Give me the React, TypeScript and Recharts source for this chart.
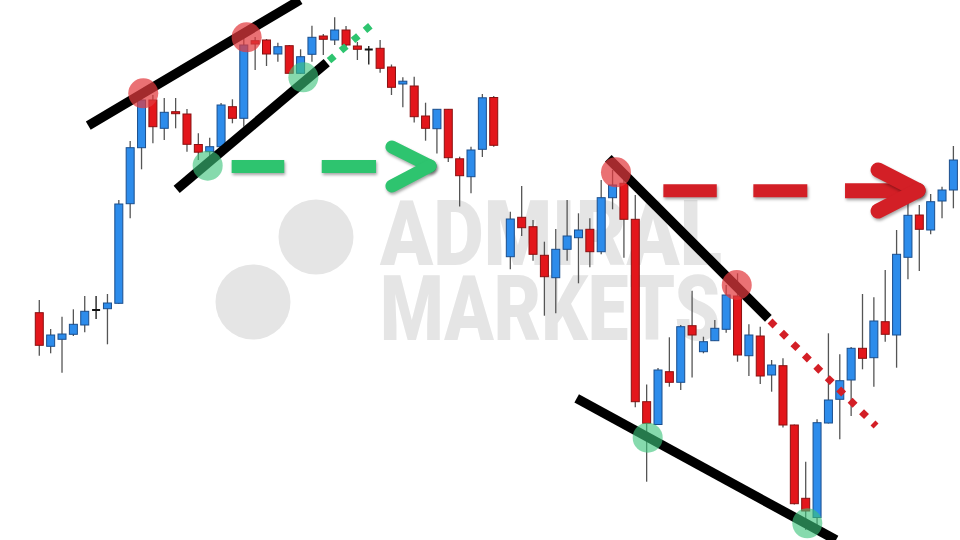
import { ComposedChart, Bar, XAxis, YAxis, ReferenceLine, ReferenceDot } from "recharts";

// ─── Data ─────────────────────────────────────────────────────────────────────
// candles as [open, high, low, close]; blue = up, red = down

const leftCandles: number[][] = [
  [227.3, 240, 184.3, 194.7],
  [193.7, 211, 186.7, 205],
  [200.7, 223.3, 167.3, 206],
  [205.7, 230.7, 204, 215.7],
  [215, 244, 207.7, 228.7],
  [230, 244, 221, 230],
  [231.3, 246, 195.7, 237],
  [236.7, 340, 236, 336],
  [336.3, 399, 321.7, 392.3],
  [392.3, 444, 370.7, 440],
  [440, 445, 396.7, 413.3],
  [411.7, 442, 400, 427.7],
  [428.3, 442, 411.7, 426.5],
  [426, 431, 388.3, 395.7],
  [395.5, 406.7, 380, 387.8],
  [388.3, 402.3, 380, 393.3],
  [393.3, 437, 393, 435],
  [433.3, 440.7, 416.7, 421.7],
  [421.7, 504, 413.3, 495],
  [499.3, 503, 470, 496],
  [500, 501, 474, 486],
  [486, 497.3, 478.3, 493.3],
  [494.3, 495, 466, 466.7],
  [466.7, 490.7, 466, 483.3],
  [485.7, 514.3, 478.3, 502.7],
  [504, 506, 485, 500.7],
  [500, 522.7, 495, 510],
  [510, 514, 490, 495],
  [494, 498, 480, 490.7],
  [490.5, 494, 475.5, 490.5],
  [491.7, 500, 467.3, 471.7],
  [473, 475.5, 445, 452.7],
  [456, 462.7, 432.7, 458.8],
  [454, 463.3, 417.5, 423.3],
  [424, 437.3, 399.3, 411.7],
  [411.3, 430.7, 386.5, 430.7],
  [430.7, 431, 378, 382.3],
  [381.2, 383.3, 333.5, 364.3],
  [363.3, 393.3, 346.7, 390],
  [390.7, 446, 383, 442.2],
  [442.5, 444, 393.3, 394.7],
];

const rightCandles: number[][] = [
  [283.3, 328.3, 270.7, 321],
  [322.7, 354, 304, 312.3],
  [313.3, 320, 279.3, 285.7],
  [284.7, 298.3, 224.3, 263.3],
  [262.3, 311, 226.7, 290.7],
  [290.7, 340, 279.3, 304],
  [302.3, 326.7, 256.7, 310],
  [310.7, 321.7, 272.7, 288.3],
  [288.3, 360, 285.7, 342.3],
  [342.3, 370, 330.7, 355],
  [356.7, 365, 282.3, 320.7],
  [320.7, 345, 132.7, 138.3],
  [138.3, 155.5, 58.3, 116.7],
  [115.5, 172, 115, 170],
  [168.3, 202.7, 153.3, 157.7],
  [157.7, 215, 150, 213.3],
  [214.3, 249.3, 162.5, 205],
  [188.3, 203.3, 186.7, 198.3],
  [199.3, 220, 199, 211.7],
  [210.7, 255, 207.3, 245],
  [244, 266.7, 178.3, 185],
  [184.3, 215.7, 164, 205],
  [204, 213.3, 156, 164],
  [165, 180, 148.3, 175],
  [174.3, 181.7, 112.5, 115],
  [115, 115.5, 35.5, 36.3],
  [41.7, 78.3, 10, 29],
  [22.5, 120.7, 10, 117.3],
  [117, 206.7, 116.5, 140],
  [140.7, 185.7, 100.7, 159.3],
  [160, 193, 124, 191.7],
  [191.7, 246, 170.7, 181.7],
  [182.3, 242.7, 153.3, 219],
  [218.3, 270, 198.3, 205.7],
  [205, 310, 172.3, 285.7],
  [282.7, 340, 260.7, 324.7],
  [325, 335, 269, 310.7],
  [310, 346, 305.7, 338.3],
  [339, 353.3, 321.7, 350],
  [350, 394, 331.7, 380],
];

// right-hand chart starts a little after the left one ends
const RIGHT_START = 41.46;

// trend lines, [t, price] end points
const blackLines = [
  [[4.34, 414.3], [22.98, 540]],
  [[12.12, 350.7], [25.33, 477.3]],
  [[50.11, 381.7], [64.2, 221.7]],
  [[47.33, 141.7], [70.16, 0]],
];
const greenDotted = [[25.53, 479.3], [29.75, 519.8]];
const redDotted = [[64.35, 219], [73.68, 114]];

const redMarks = [[9.18, 446.7], [18.28, 502.7], [50.79, 367.7], [61.42, 255]];
const greenMarks = [[14.85, 374.3], [23.27, 462.7], [53.58, 102.3], [67.63, 16.7]];

// dashed arrows
const greenArrowLevel = 373.5;
const greenDashes = [[16.96, 21.59], [24.89, 29.67]];
const greenHead = [[31.07, 393], [34.42, 374], [31.07, 354]];
const redArrowLevel = 349.2;
const redDashes = [[54.96, 59.66], [62.88, 67.63]];
const redShaft = [70.95, 76.6];
const redHead = [[73.86, 370], [77.38, 349.5], [73.86, 329]];

const data = [
  ...leftCandles.map((c, i) => ({ t: i, open: c[0], high: c[1], low: c[2], close: c[3] })),
  ...rightCandles.map((c, i) => ({ t: RIGHT_START + i, open: c[0], high: c[1], low: c[2], close: c[3] })),
].map((d) => ({ ...d, range: [d.low, d.high] }));

const BLUE = "#2d8ceb";
const RED = "#e3161b";
const GREEN = "#2ec46f";
const ARROW_RED = "#d31f26";

// ─── Candle shape ─────────────────────────────────────────────────────────────

function Candle(props: any) {
  const { x, y, width, height, payload } = props;
  const { open, high, low, close } = payload;
  const top = Math.min(y, y + height);
  const h = Math.abs(height);
  const k = high === low ? 0 : h / (high - low);
  const py = (v: number) => top + (high - v) * k;
  const cx = x + width / 2;
  const doji = open === close;
  const up = close > open;
  const bTop = py(Math.max(open, close));
  const bBot = py(Math.min(open, close));
  if (doji) {
    return (
      <g>
        <line x1={cx} x2={cx} y1={top} y2={top + h} stroke="#222" strokeWidth={1.4} />
        <line x1={x} x2={x + width} y1={bTop} y2={bTop} stroke="#111" strokeWidth={2} />
      </g>
    );
  }
  return (
    <g>
      <line x1={cx} x2={cx} y1={top} y2={top + h} stroke="#555" strokeWidth={1.3} />
      <rect
        x={x}
        y={bTop}
        width={width}
        height={Math.max(bBot - bTop, 2)}
        fill={up ? BLUE : RED}
        stroke={up ? "#1b4e8c" : "#8a1010"}
        strokeWidth={1}
      />
    </g>
  );
}

// ─── Watermark ────────────────────────────────────────────────────────────────

function Watermark() {
  return (
    <svg width={960} height={540} style={{ position: "absolute", left: 0, top: 0 }}>
      <circle cx={316} cy={237} r={37.5} fill="#e5e5e5" />
      <circle cx={253} cy={302} r={37.5} fill="#e5e5e5" />
      <g fill="#e5e5e5" fontFamily="Roboto, 'Noto Sans', sans-serif" fontWeight={900} fontSize={90}>
        <text x={380} y={265} textLength={342} lengthAdjust="spacingAndGlyphs">ADMIRAL</text>
        <text x={380} y={340} textLength={340} lengthAdjust="spacingAndGlyphs">MARKETS</text>
      </g>
    </svg>
  );
}

// ─── App ──────────────────────────────────────────────────────────────────────

export default function App() {
  const seg = (a: number[], b: number[]) => [{ x: a[0], y: a[1] }, { x: b[0], y: b[1] }];
  return (
    <div style={{ position: "fixed", left: 0, top: 0, width: 960, height: 540, background: "#fff", overflow: "hidden" }}>
      <style>{`.arrow-mark { filter: drop-shadow(1px 2px 1.5px rgba(0,0,0,0.35)); }`}</style>
      <Watermark />
      <div style={{ position: "absolute", left: 0, top: 0 }}>
        <ComposedChart width={960} height={540} data={data} margin={{ top: 0, right: 0, bottom: 0, left: 0 }}>
          <XAxis dataKey="t" type="number" domain={[-3.43, 81.07]} hide />
          <YAxis type="number" domain={[0, 540]} hide />

          <Bar dataKey="range" barSize={8} shape={Candle} isAnimationActive={false} />

          {blackLines.map((l, i) => (
            <ReferenceLine key={`b${i}`} segment={seg(l[0], l[1])} stroke="#000" strokeWidth={9.5} ifOverflow="visible" />
          ))}
          <ReferenceLine segment={seg(greenDotted[0], greenDotted[1])} stroke={GREEN} strokeWidth={7} strokeDasharray="7 8.7" ifOverflow="visible" />
          <ReferenceLine segment={seg(redDotted[0], redDotted[1])} stroke={ARROW_RED} strokeWidth={7} strokeDasharray="7 9.1" ifOverflow="visible" />

          {redMarks.map((m, i) => (
            <ReferenceDot key={`r${i}`} x={m[0]} y={m[1]} r={15} fill="#e23a3f" fillOpacity={0.72} stroke="none" ifOverflow="visible" />
          ))}
          {greenMarks.map((m, i) => (
            <ReferenceDot key={`g${i}`} x={m[0]} y={m[1]} r={15} fill="#3cc47a" fillOpacity={0.62} stroke="none" ifOverflow="visible" />
          ))}

          {greenDashes.map((d, i) => (
            <ReferenceLine key={`gd${i}`} className="arrow-mark" segment={seg([d[0], greenArrowLevel], [d[1], greenArrowLevel])} stroke={GREEN} strokeWidth={13} ifOverflow="visible" />
          ))}
          <ReferenceLine className="arrow-mark" segment={seg(greenHead[0], greenHead[1])} stroke={GREEN} strokeWidth={13} strokeLinecap="round" ifOverflow="visible" />
          <ReferenceLine className="arrow-mark" segment={seg(greenHead[1], greenHead[2])} stroke={GREEN} strokeWidth={13} strokeLinecap="round" ifOverflow="visible" />

          {redDashes.map((d, i) => (
            <ReferenceLine key={`rd${i}`} className="arrow-mark" segment={seg([d[0], redArrowLevel], [d[1], redArrowLevel])} stroke={ARROW_RED} strokeWidth={13} ifOverflow="visible" />
          ))}
          <ReferenceLine className="arrow-mark" segment={seg([redShaft[0], redArrowLevel], [redShaft[1], redArrowLevel])} stroke={ARROW_RED} strokeWidth={15} ifOverflow="visible" />
          <ReferenceLine className="arrow-mark" segment={seg(redHead[0], redHead[1])} stroke={ARROW_RED} strokeWidth={15} strokeLinecap="round" ifOverflow="visible" />
          <ReferenceLine className="arrow-mark" segment={seg(redHead[1], redHead[2])} stroke={ARROW_RED} strokeWidth={15} strokeLinecap="round" ifOverflow="visible" />
        </ComposedChart>
      </div>
    </div>
  );
}
